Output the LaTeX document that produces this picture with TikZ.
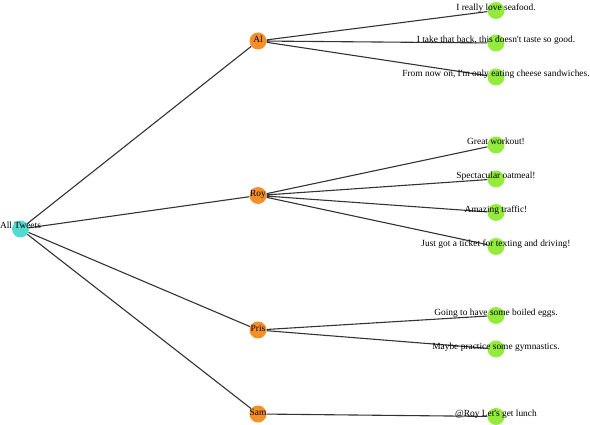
\documentclass[tikz,border=0pt]{standalone}
\usepackage{fontspec}
\setmainfont{Liberation Serif}[Ligatures=TeXOff]
\usetikzlibrary{backgrounds}
\definecolor{RootClr}{rgb}{0.33,0.86,0.82}
\definecolor{NameClr}{rgb}{0.96,0.56,0.16}
\definecolor{TweetClr}{rgb}{0.58,0.92,0.24}
\definecolor{EdgeClr}{rgb}{0.2,0.2,0.2}

\begin{document}
\begin{tikzpicture}[x=1pt,y=-1pt,
  dot/.style={circle,inner sep=0pt,minimum size=17pt},
  rootdot/.style={dot,fill=RootClr},
  namedot/.style={dot,fill=NameClr},
  tweetdot/.style={dot,fill=TweetClr},
  edge/.style={draw=EdgeClr,line width=1.1pt},
  lbl/.style={anchor=base,inner sep=0pt,font=\fontsize{9.4}{11}\selectfont},
  namelbl/.style={lbl,yshift=-1.5pt}]
\useasboundingbox (0,0) rectangle (590,425);

\node[rootdot] (tw) at (20.5,229) {};

\node[namedot] (al) at (258,41) {};
\node[namedot] (roy) at (258,195.5) {};
\node[namedot] (pris) at (258,330) {};
\node[namedot] (sam) at (258,414) {};

\node[tweetdot] (al1) at (496,10.5) {};
\node[tweetdot] (al2) at (496,43) {};
\node[tweetdot] (al3) at (496,77) {};
\node[tweetdot] (roy1) at (496,145) {};
\node[tweetdot] (roy2) at (496,179) {};
\node[tweetdot] (roy3) at (496,212.5) {};
\node[tweetdot] (roy4) at (496,246.5) {};
\node[tweetdot] (pris1) at (496,315.5) {};
\node[tweetdot] (pris2) at (496,349) {};
\node[tweetdot] (sam1) at (496,416.5) {};

\begin{scope}[on background layer]
\draw[edge] (tw) -- (al) (tw) -- (roy) (tw) -- (pris) (tw) -- (sam);
\draw[edge] (al) -- (al1) (al) -- (al2) (al) -- (al3);
\draw[edge] (roy) -- (roy1) (roy) -- (roy2) (roy) -- (roy3) (roy) -- (roy4);
\draw[edge] (pris) -- (pris1) (pris) -- (pris2);
\draw[edge] (sam) -- (sam1);
\end{scope}

\node[lbl] (twt) at (tw) {All Tweets};

\node[namelbl] (alt) at (al) {Al};
\node[namelbl] (royt) at (roy) {Roy};
\node[namelbl] (prist) at (pris) {Pris};
\node[namelbl] (samt) at (sam) {Sam};

\node[lbl] (al1t) at (al1) {I really love seafood.};
\node[lbl] (al2t) at (al2) {I take that back, this doesn't taste so good.};
\node[lbl] (al3t) at (al3) {From now on, I'm only eating cheese sandwiches.};
\node[lbl] (roy1t) at (roy1) {Great workout!};
\node[lbl] (roy2t) at (roy2) {Spectacular oatmeal!};
\node[lbl] (roy3t) at (roy3) {Amazing traffic!};
\node[lbl] (roy4t) at (roy4) {Just got a ticket for texting and driving!};
\node[lbl] (pris1t) at (pris1) {Going to have some boiled eggs.};
\node[lbl] (pris2t) at (pris2) {Maybe practice some gymnastics.};
\node[lbl] (sam1t) at (sam1) {@Roy Let's get lunch};

\end{tikzpicture}
\end{document}
